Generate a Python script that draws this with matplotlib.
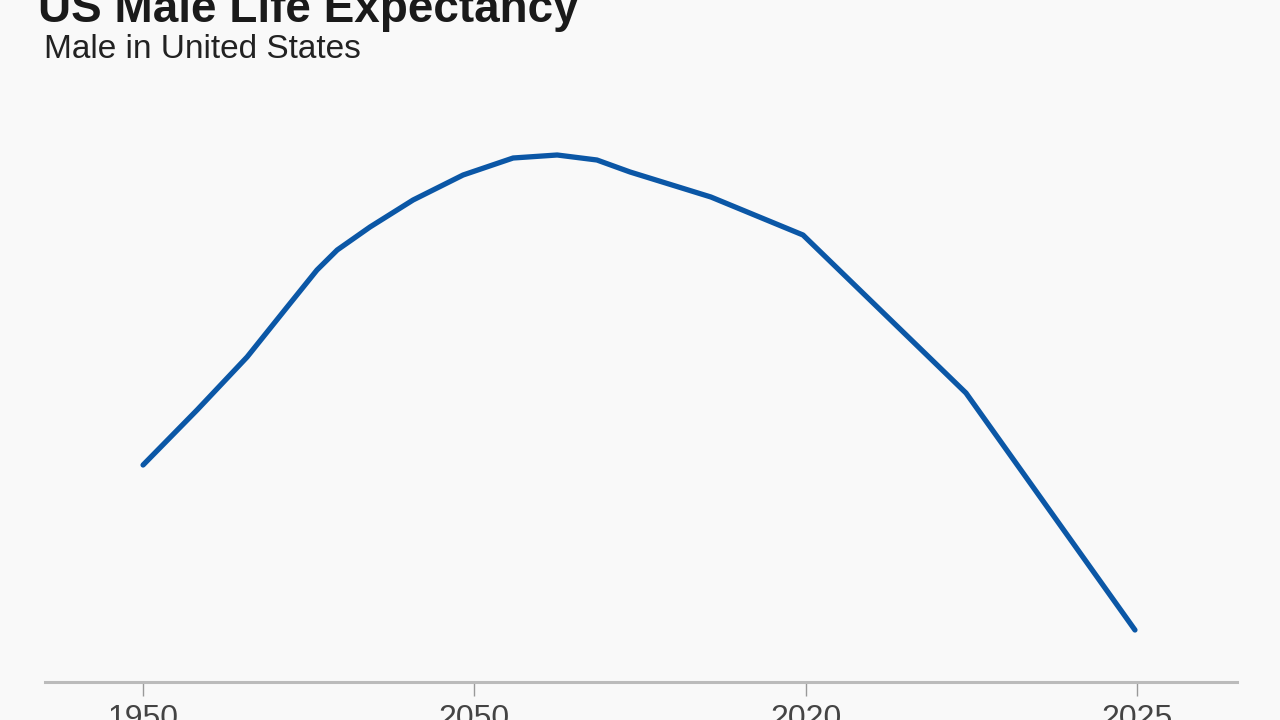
import matplotlib
matplotlib.use("Agg")
import matplotlib.pyplot as plt

# Data (x in tick-slot units, y in years)
tick_positions = [0, 1, 2, 3]
tick_labels = ["1950", "2050", "2020", "2025"]
x_vals = [0.0, 0.163, 0.314, 0.435, 0.525, 0.586, 0.685, 0.815, 0.966, 1.117,
          1.25, 1.37, 1.47, 1.714, 1.992, 2.484, 2.994]
life_exp = [69.8, 70.9, 71.96, 72.96, 73.7, 74.1, 74.56, 75.1, 75.6, 75.94,
            76.0, 75.9, 75.66, 75.16, 74.4, 71.24, 66.5]

title = "US Male Life Expectancy"
subtitle = "Male in United States"

bg = "#f9f9f9"
fig = plt.figure(figsize=(12.8, 7.2), dpi=100, facecolor=bg)
ax = fig.add_axes([45/1280, 38/720, (1237-45)/1280, (682-100)/720])
ax.set_facecolor(bg)

ax.plot(x_vals, life_exp, color="#0b57a6", lw=3.8, solid_capstyle="round", solid_joinstyle="round")

ax.set_xlim(-0.296, 3.302)
ax.set_ylim(65.46, 77.1)
ax.set_xticks(tick_positions)
ax.set_xticklabels(tick_labels, fontsize=23, color="#444444", family="Liberation Sans")
ax.tick_params(axis="x", length=10, width=1, color="#999999", pad=6)
ax.set_yticks([])
for s in ["top", "right", "left"]:
    ax.spines[s].set_visible(False)
ax.spines["bottom"].set_color("#bbbbbb")
ax.spines["bottom"].set_linewidth(2.2)

fig.text(38/1280, 1 - 22/720, title, fontsize=33, fontweight="bold", color="#1a1a1a",
         family="Liberation Sans", ha="left", va="baseline")
fig.text(44/1280, 1 - 58/720, subtitle, fontsize=24, color="#222222",
         family="Liberation Sans", ha="left", va="baseline")

fig.savefig("out.png", dpi=100, facecolor=bg)
